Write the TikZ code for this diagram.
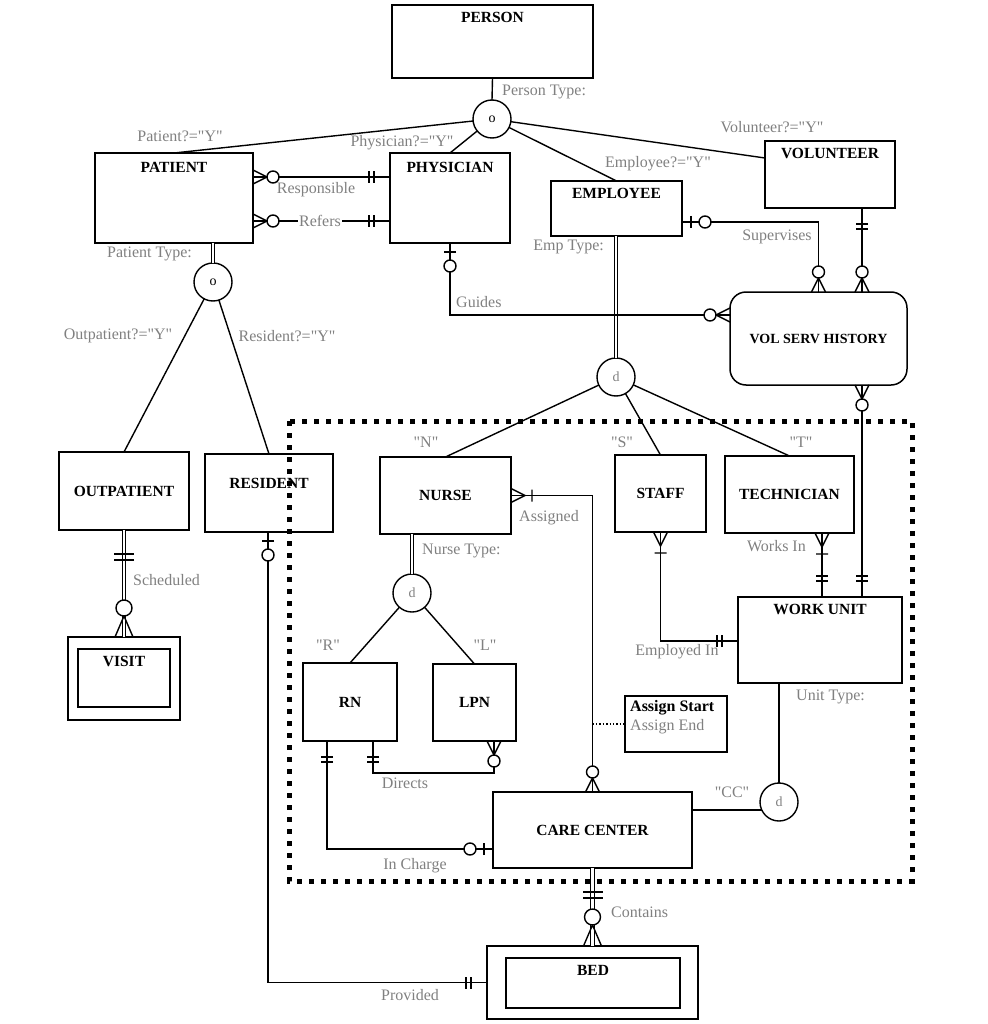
\documentclass[tikz,border=0pt]{standalone}
\usepackage{fontspec}
\setmainfont{Liberation Serif}[Ligatures=TeXOff]
\usetikzlibrary{calc,positioning}
\tikzset{
    entity/.style={draw, line width=1.5pt, inner sep=0pt, outer sep=0pt,
        font=\fontsize{15.5}{17}\selectfont\bfseries},
    isacirc/.style={draw, circle, line width=1.4pt, minimum size=38pt,
        inner sep=0pt, outer sep=0pt, text=gray, font=\fontsize{14}{15}\selectfont},
    rel/.style={line width=1.4pt, black},
    totalrel/.style={line width=1.2pt, double, double distance=2.2pt},
    lbl/.style={gray, font=\fontsize{16}{18}\selectfont, inner sep=1pt},
    toplbl/.style={anchor=north, yshift=-7pt, inner sep=0pt,
        font=\fontsize{15.5}{17}\selectfont\bfseries},
    % crow's foot ends, drawn along +x away from the entity
    zmany/.pic={\draw[rel] (0,-7) -- (14,0) -- (0,7);
        \draw[rel,fill=white] (20,0) circle (6);},
    omany/.pic={\draw[rel] (0,-7) -- (14,0) -- (0,7) (21,-6) -- (21,6);},
    zone/.pic={\draw[rel] (9,-6) -- (9,6);
        \draw[rel,fill=white] (23,0) circle (6);},
    mone/.pic={\draw[rel] (16,-6) -- (16,6) (21,-6) -- (21,6);},
    zmanyL/.pic={\draw[rel] (0,-9) -- (21,0) -- (0,9);
        \draw[rel,fill=white] (29,0) circle (8);},
    moneL/.pic={\draw[rel] (24,-10) -- (24,10) (30,-10) -- (30,10);}
}
\begin{document}
\begin{tikzpicture}[x=1pt, y=-1pt]
    \useasboundingbox (0,0) rectangle (987,1024);
    % entities
    \node[entity, minimum width=201, minimum height=73, label={[toplbl]north:PERSON}] (person) at (492.5,41.5) {};
    \node[entity, minimum width=158, minimum height=90, label={[toplbl,yshift=-2pt]north:PATIENT}] (patient) at (174,198) {};
    \node[entity, minimum width=120, minimum height=90, label={[toplbl,yshift=-2pt]north:PHYSICIAN}] (physician) at (450,198) {};
    \node[entity, minimum width=131, minimum height=55, label={[toplbl]north:EMPLOYEE}] (employee) at (616.5,208.5) {};
    \node[entity, minimum width=130, minimum height=67, label={[toplbl]north:VOLUNTEER}] (volunteer) at (830,174.5) {};
    \node[entity, rounded corners=16pt, minimum width=177, minimum height=93,
        font=\fontsize{14}{15}\selectfont\bfseries] (volserv) at (818.5,338.5) {VOL SERV HISTORY};
    \node[entity, minimum width=130, minimum height=78] (outpatient) at (124,491) {OUTPATIENT};
    \node[entity, minimum width=128, minimum height=78, label={[toplbl,yshift=-17pt]north:RESIDENT}] (resident) at (269,493) {};
    \node[entity, minimum width=112, minimum height=83] (visitout) at (124,678.5) {};
    \node[entity, minimum width=92, minimum height=58, label={[toplbl]north:VISIT}] (visit) at (124,678) {};
    \node[entity, minimum width=131, minimum height=77] (nurse) at (445.5,495.5) {NURSE};
    \node[entity, minimum width=91, minimum height=77] (staff) at (660.5,493.5) {STAFF};
    \node[entity, minimum width=129, minimum height=77] (technician) at (789.5,494.5) {TECHNICIAN};
    \node[entity, minimum width=164, minimum height=86, label={[toplbl]north:WORK UNIT}] (workunit) at (820,640) {};
    \node[entity, minimum width=94, minimum height=78] (rn) at (350,702) {RN};
    \node[entity, minimum width=83, minimum height=77] (lpn) at (474.5,702.5) {LPN};
    \node[entity, minimum width=199, minimum height=76] (care) at (592.5,830) {CARE CENTER};
    \node[entity, minimum width=211, minimum height=73] (bedout) at (592.5,982.5) {};
    \node[entity, minimum width=174, minimum height=50, label={[toplbl]north:BED}] (bed) at (593,983) {};
    \node[draw, line width=1.5pt, minimum width=102, minimum height=56, outer sep=0pt] (assign) at (676,724) {};
    \node[anchor=north west, align=left, inner sep=0pt, font=\fontsize{16}{19}\selectfont]
        (assigntxt) at ($(assign.north west)+(5,4)$) {\textbf{Assign Start}\\\textcolor{gray}{Assign End}};

    % subtype circles
    \node[isacirc, text=black] (ptype) at (492,119) {o};
    \node[isacirc, text=black] (pattype) at (213,282) {o};
    \node[isacirc] (emptype) at (616,377) {d};
    \node[isacirc] (nursetype) at (412,593) {d};
    \node[isacirc] (unittype) at (779,802) {d};

    % person subtypes
    \coordinate (volin) at ($(volunteer.north west)+(0,17)$);
    \draw[rel] (person.south) -- (ptype.north);
    \draw[rel] (ptype) -- (patient.north);
    \draw[rel] (ptype) -- (physician.north);
    \draw[rel] (ptype) -- (employee.north);
    \draw[rel] (ptype) -- (volin);
    \draw[totalrel] (patient.south -| pattype) -- (pattype.north);
    \draw[rel] (pattype) -- (outpatient.north);
    \draw[rel] (pattype) -- (resident.north);
    \draw[totalrel] (employee.south -| emptype) -- (emptype.north);
    \draw[rel] (emptype) -- (nurse.north);
    \draw[rel] (emptype) -- (staff.north);
    \draw[rel] (emptype) -- (technician.north);
    \draw[totalrel] (nurse.south -| nursetype) -- (nursetype.north);
    \draw[rel] (nursetype) -- (rn.north);
    \draw[rel] (nursetype) -- (lpn.north);
    \draw[rel] (workunit.south -| unittype) -- (unittype.north);
    \draw[rel] (unittype.205) -- (unittype.205 -| care.east);

    % Responsible, Refers
    \coordinate (respa) at ($(patient.east)+(0,-21)$);
    \coordinate (refa) at ($(patient.east)+(0,23)$);
    \draw[rel] (respa) -- (respa -| physician.west);
    \draw[rel] (refa) -- (refa -| physician.west);
    \pic at (respa) {zmany};
    \pic at (refa) {zmany};
    \pic[rotate=180] at (respa -| physician.west) {mone};
    \pic[rotate=180] at (refa -| physician.west) {mone};

    % Guides
    \coordinate (guidc) at ($(physician.south)+(0,72)$);
    \draw[rel] (physician.south) -- (guidc) -- (guidc -| volserv.west);
    \pic[rotate=-90] at (physician.south) {zone};
    \pic[rotate=180] at (guidc -| volserv.west) {zmany};

    % Supervises
    \coordinate (supa) at ($(employee.east)+(0,13.5)$);
    \draw[rel] (supa) -- (supa -| volserv.north) -- (volserv.north);
    \pic at (supa) {zone};
    \pic[rotate=90] at (volserv.north) {zmany};

    % volunteer, history, work unit
    \coordinate (vola) at ($(volunteer.south)+(32,0)$);
    \draw[rel] (vola) -- (vola |- volserv.north);
    \pic[rotate=-90] at (vola) {mone};
    \pic[rotate=90] at (vola |- volserv.north) {zmany};
    \draw[rel] (vola |- volserv.south) -- (vola |- workunit.north);
    \pic[rotate=-90] at (vola |- volserv.south) {zmany};
    \pic[rotate=90] at (vola |- workunit.north) {mone};

    % Works In, Employed In
    \coordinate (worka) at ($(technician.south)+(32.5,0)$);
    \draw[rel] (worka) -- (worka |- workunit.north);
    \pic[rotate=-90] at (worka) {omany};
    \pic[rotate=90] at (worka |- workunit.north) {mone};
    \coordinate (empb) at ($(workunit.west)+(0,1)$);
    \draw[rel] (staff.south) -- (staff.south |- empb) -- (empb);
    \pic[rotate=-90] at (staff.south) {omany};
    \pic[rotate=180] at (empb) {mone};

    % Assigned
    \draw[rel] (nurse.east) -- (nurse.east -| care.north) -- (care.north);
    \pic at (nurse.east) {omany};
    \pic[rotate=90] at (care.north) {zmany};
    \draw[dotted, line width=1.4pt] (assign.west -| care.north) -- (assign.west);

    % Directs, In Charge
    \coordinate (dira) at ($(rn.south)+(23,0)$);
    \coordinate (dirb) at ($(lpn.south)+(19.5,0)$);
    \coordinate (dirc) at ($(dira)+(0,32)$);
    \draw[rel] (dira) -- (dirc) -- (dirc -| dirb) -- (dirb);
    \pic[rotate=-90] at (dira) {mone};
    \pic[rotate=-90] at (dirb) {zmany};
    \coordinate (incha) at ($(rn.south)+(-23,0)$);
    \coordinate (inchb) at ($(care.west)+(0,19)$);
    \draw[rel] (incha) -- (incha |- inchb) -- (inchb);
    \pic[rotate=-90] at (incha) {mone};
    \pic[rotate=180] at (inchb) {zone};

    % Scheduled, Provided, Contains
    \draw[totalrel] (outpatient.south) -- (visitout.north);
    \pic[rotate=-90] at (outpatient.south) {moneL};
    \pic[rotate=90] at (visitout.north) {zmanyL};
    \coordinate (prova) at ($(resident.south)+(-1,0)$);
    \draw[rel] (prova) -- (prova |- bedout.west) -- (bedout.west);
    \pic[rotate=-90] at (prova) {zone};
    \pic[rotate=180] at (bedout.west) {mone};
    \draw[totalrel] (care.south) -- (bedout.north);
    \pic[rotate=-90] at (care.south) {moneL};
    \pic[rotate=90] at (bedout.north) {zmanyL};

    % labels
    \node[lbl, anchor=west] (ptypelbl) at (501,92) {Person Type:};
    \node[lbl] (patlbl) at (180,136) {Patient?="Y"};
    \node[lbl] (physlbl) at (402,143) {Physician?="Y"};
    \node[lbl] (emplbl) at (658,164) {Employee?="Y"};
    \node[lbl] (vollbl) at (772,127) {Volunteer?="Y"};
    \node[lbl, anchor=east] (pattypelbl) at (193,254) {Patient Type:};
    \node[lbl] (outlbl) at (118,336) {Outpatient?="Y"};
    \node[lbl] (reslbl) at (287,336) {Resident?="Y"};
    \node[lbl, anchor=east] (emptypelbl) at (605,247) {Emp Type:};
    \node[lbl] (nlbl) at (426,442) {"N"};
    \node[lbl] (slbl) at (622,442) {"S"};
    \node[lbl] (tlbl) at (801,442) {"T"};
    \node[lbl, anchor=west] (nursetypelbl) at (421,551) {Nurse Type:};
    \node[lbl] (rlbl) at (328,645) {"R"};
    \node[lbl] (llbl) at (485,645) {"L"};
    \node[lbl, anchor=west] (unittypelbl) at (795,697) {Unit Type:};
    \node[lbl] (cclbl) at (732,792) {"CC"};
    \node[lbl] (resplbl) at (316,190) {Responsible};
    \node[lbl, fill=white] (reflbl) at (320,221) {Refers};
    \node[lbl, anchor=west] (guidlbl) at (455,302) {Guides};
    \node[lbl] (suplbl) at (777,237) {Supervises};
    \node[lbl, anchor=east] (worklbl) at (807,546) {Works In};
    \node[lbl] (employlbl) at (677,652) {Employed In};
    \node[lbl] (asslbl) at (549,518) {Assigned};
    \node[lbl] (dirlbl) at (405,783) {Directs};
    \node[lbl] (inchlbl) at (415,866) {In Charge};
    \node[lbl, anchor=west] (schedlbl) at (132,580) {Scheduled};
    \node[lbl] (provlbl) at (410,995) {Provided};
    \node[lbl, anchor=west] (contlbl) at (610,912) {Contains};

    % care unit boundary
    \draw[line width=5pt, dash pattern=on 5pt off 7pt] (289,421) rectangle (912,881);
\end{tikzpicture}
\end{document}
